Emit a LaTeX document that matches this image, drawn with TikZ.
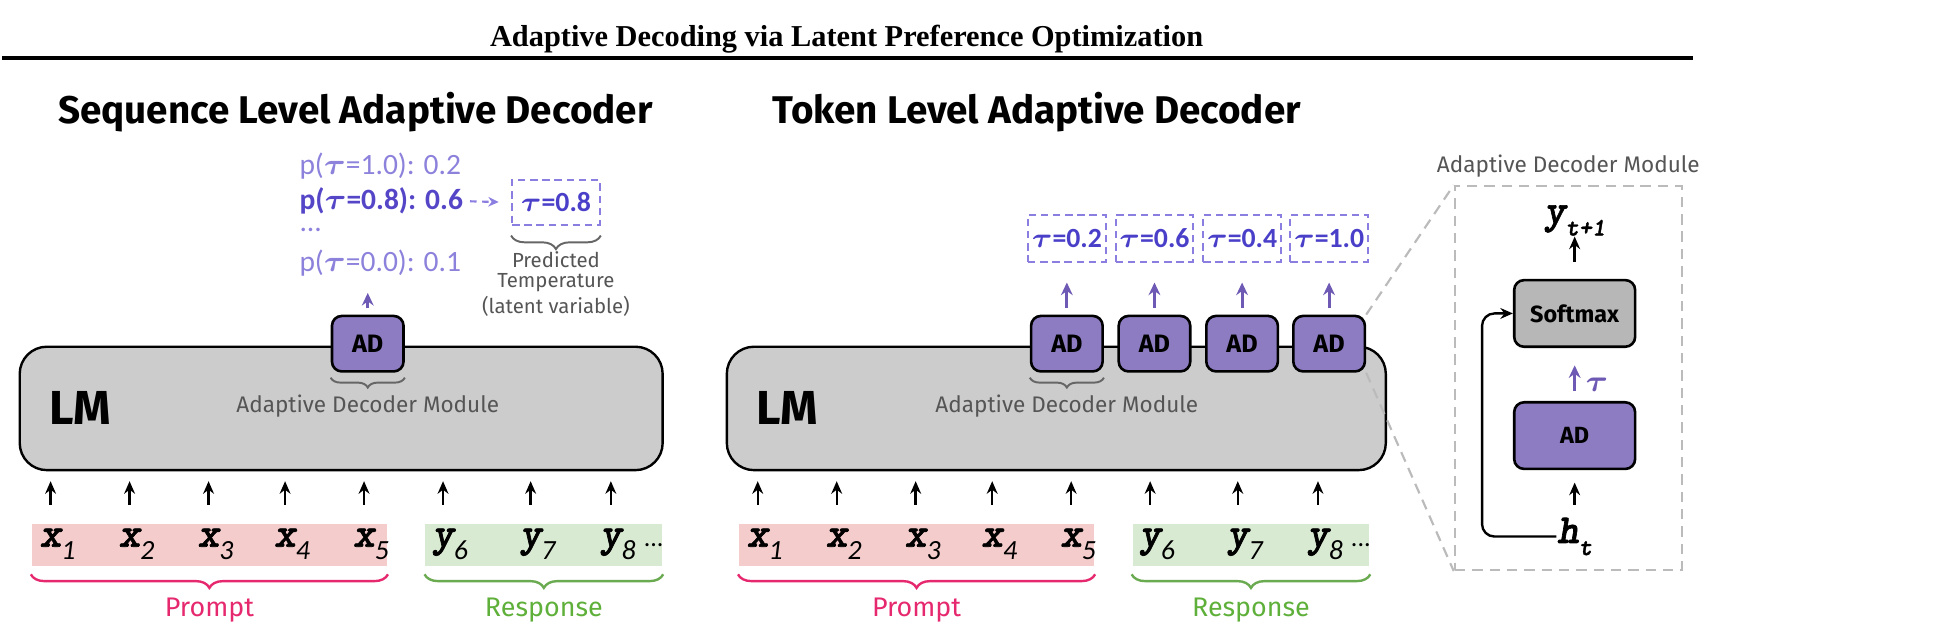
\RequirePackage{fix-cm}
\documentclass[tikz,border=0pt]{standalone}
\usepackage{fontspec}
\usepackage{bm}
\usetikzlibrary{arrows.meta, positioning, calc, decorations.pathreplacing}
\setmainfont{Fira Sans}
\newfontfamily\calfont{Carlito}
\newfontfamily\paperfont{Liberation Serif}
\newfontfamily\tokfont{lmmonolt10-boldoblique.otf}[FakeBold=1.6]

\definecolor{lmgray}{HTML}{CCCCCC}
\definecolor{softgray}{HTML}{B7B7B7}
\definecolor{adpurple}{HTML}{8E7CC3}
\definecolor{taublue}{HTML}{4A3FC9}
\definecolor{taudash}{HTML}{8A7EE0}
\definecolor{plight}{HTML}{8C82DC}
\definecolor{pdark}{HTML}{5546C8}
\definecolor{arrpurple}{HTML}{6E5AB4}
\definecolor{promptpink}{HTML}{F4CCCC}
\definecolor{responsegreen}{HTML}{D9EAD3}
\definecolor{promptred}{HTML}{E6286E}
\definecolor{respgreen}{HTML}{5FB03A}
\definecolor{respbrace}{HTML}{6AAA50}
\definecolor{textgray}{HTML}{555555}
\definecolor{bracegray}{HTML}{666666}
\definecolor{zoomgray}{HTML}{BBBBBB}

\newcommand{\tokx}[2]{{\tokfont #1}\rlap{\raisebox{-3pt}{\calfont\itshape\fontsize{6.4}{6.4}\selectfont #2}}}
\newcommand{\modvar}[2]{{\tokfont #1}\raisebox{-2.8pt}{\tokfont\fontsize{5.8}{6}\selectfont #2}}

\begin{document}
\begin{tikzpicture}[
        lmbox/.style={draw, line width=0.55pt, rounded corners=0.22cm, fill=lmgray, minimum height=1cm, anchor=north west},
        adbox/.style={draw, line width=0.6pt, rounded corners=0.08cm, fill=adpurple, minimum width=0.58cm, minimum height=0.45cm, inner sep=0pt, font=\fontsize{5.8}{6}\selectfont\bfseries},
        modbox/.style={draw, line width=0.6pt, rounded corners=0.08cm, minimum width=0.98cm, minimum height=0.54cm, inner sep=0pt, font=\fontsize{5.4}{6}\selectfont\bfseries},
        taubox/.style={draw=taudash, dash pattern=on 1.7pt off 1.1pt, line width=0.5pt, minimum width=0.63cm, minimum height=0.38cm, inner sep=0pt, text=taublue, font=\calfont\fontsize{6.4}{7}\selectfont\bfseries},
        plabel/.style={anchor=west, inner sep=0pt, font=\calfont\fontsize{6.8}{7}\selectfont},
        graytext/.style={text=textgray, font=\fontsize{5.2}{5.4}\selectfont, inner sep=0pt},
        heading/.style={anchor=base, font=\fontsize{8.9}{9}\selectfont\bfseries},
        lmlabel/.style={font=\fontsize{11}{11}\selectfont\bfseries},
        tokenlbl/.style={anchor=base, inner sep=0pt, font=\fontsize{9.5}{9.5}\selectfont},
        inarrow/.style={-{Stealth[length=2.9pt, width=2.5pt]}, line width=0.55pt},
        tauarrow/.style={-{Stealth[length=2.9pt, width=2.7pt]}, line width=0.7pt, draw=arrpurple},
        adbrace/.style={decorate, decoration={brace, mirror, amplitude=0.08cm}, draw=bracegray, line width=0.45pt},
        zoomline/.style={draw=zoomgray, dash pattern=on 2.4pt off 1.6pt, line width=0.5pt}
    ]
    \useasboundingbox (0,0) rectangle (15.68,-5.09);

    % Page header
    \node[anchor=base, font=\paperfont\bfseries\fontsize{7}{8}\selectfont] (paper) at (6.86,-0.38) {Adaptive Decoding via Latent Preference Optimization};
    \draw[line width=0.77pt] (0.02,-0.47) -- (13.72,-0.47);

    % Headings
    \node[heading] (seqtitle) at (2.88,-1.00) {Sequence Level Adaptive Decoder};
    \node[heading] (toktitle) at (8.40,-1.00) {Token Level Adaptive Decoder};

    % Sequence level: one AD for the whole response
    \node[lmbox, minimum width=5.21cm] (lms) at (0.15,-2.80) {};
    \node[lmlabel] (lmslbl) at (0.65,-3.31) {LM};
    \node[adbox] (adseq) at (2.98,-2.785) {AD};

    \node[plabel, text=plight] (pone) at (2.42,-1.35) {p($\bm{\tau}$=1.0): 0.2};
    \node[plabel, text=pdark, font=\calfont\fontsize{6.8}{7}\selectfont\bfseries] (psel) at (2.42,-1.63) {p($\bm{\tau}$=0.8): 0.6};
    \node[plabel, text=plight] (pdots) at (2.42,-1.86) {...};
    \node[plabel, text=plight] (pzero) at (2.42,-2.13) {p($\bm{\tau}$=0.0): 0.1};

    \node[taubox, minimum width=0.71cm, minimum height=0.36cm] (tausel) at (4.505,-1.64) {$\bm{\tau}$=0.8};
    \draw[-{Stealth[length=2.4pt, width=2.2pt]}, draw=taudash, line width=0.5pt, dash pattern=on 1.5pt off 1.3pt, shorten <=0.05cm, shorten >=0.1cm] (psel.east) -- (tausel.west);
    \draw[adbrace, decoration={amplitude=0.11cm}] ([yshift=-0.08cm]tausel.south west) -- ([yshift=-0.08cm]tausel.south east);
    \node[graytext, align=center, font=\fontsize{4.7}{4.7}\selectfont] (predlbl) at (4.505,-2.30) {Predicted\\Temperature\\(latent variable)};

    \draw[tauarrow, shorten <=0.05cm, shorten >=0.13cm] (adseq.north) -- (adseq.north |- pzero.south);
    \draw[adbrace] ([yshift=-0.04cm]adseq.south west) -- ([yshift=-0.04cm]adseq.south east);
    \node[graytext] (admseq) at ($(adseq.south)+(0,-0.27)$) {Adaptive Decoder Module};

    % Token level: one AD per token
    \node[lmbox, minimum width=5.34cm] (lmt) at (5.88,-2.80) {};
    \node[lmlabel] (lmtlbl) at (6.38,-3.31) {LM};
    \foreach \i/\xx/\tv in {1/8.645/0.2, 2/9.355/0.6, 3/10.065/0.4, 4/10.77/1.0} {
        \node[adbox] (adtok\i) at (\xx,-2.785) {AD};
        \node[taubox, above=0.42cm of adtok\i] (tautok\i) {$\bm{\tau}$=\tv};
        \draw[tauarrow, shorten <=0.05cm, shorten >=0.16cm] (adtok\i) -- (tautok\i);
    }
    \draw[adbrace] ([yshift=-0.04cm]adtok1.south west) -- ([yshift=-0.04cm]adtok1.south east);
    \node[graytext] (admtok) at ($(adtok1.south)+(0,-0.27)$) {Adaptive Decoder Module};

    % Inputs of both panels
    \foreach \pn/\dx in {s/0, t/5.73} {
        \node[fill=promptpink, minimum width=2.88cm, minimum height=0.34cm, inner sep=0pt, anchor=north west] (prompt\pn) at (0.25+\dx,-4.24) {};
        \node[fill=responsegreen, minimum width=1.92cm, minimum height=0.34cm, inner sep=0pt, anchor=north west] (response\pn) at (3.44+\dx,-4.24) {};
        \foreach \i/\xx in {1/0.41, 2/1.05, 3/1.69, 4/2.31, 5/2.95}
            \node[tokenlbl] (\pn x\i) at (\xx+\dx,-4.43) {\tokx{x}{\i}};
        \foreach \i/\xx in {6/3.59, 7/4.30, 8/4.95}
            \node[tokenlbl] (\pn y\i) at (\xx+\dx,-4.43) {\tokx{y}{\i}};
        \node[tokenlbl, anchor=base west, font=\calfont\fontsize{6}{6}\selectfont] (\pn dots) at (5.21+\dx,-4.43) {...};
        \foreach \tk in {x1,x2,x3,x4,x5,y6,y7,y8}
            \draw[inarrow, shorten >=0.08cm] (\pn\tk.north |- prompt\pn.north) ++(0,0.15) -- (\pn\tk.north |- lm\pn.south);
        \draw[decorate, decoration={brace, mirror, amplitude=0.11cm}, draw=promptred, line width=0.55pt] ([yshift=-0.06cm]prompt\pn.south west) -- ([yshift=-0.06cm]prompt\pn.south east);
        \draw[decorate, decoration={brace, mirror, amplitude=0.11cm}, draw=respbrace, line width=0.55pt] ([yshift=-0.06cm]response\pn.south west) -- ([yshift=-0.06cm]response\pn.south east);
        \node[text=promptred, font=\fontsize{6.2}{6.2}\selectfont] (promptlbl\pn) at ($(prompt\pn.south)+(0,-0.35)$) {Prompt};
        \node[text=respgreen, font=\fontsize{6.2}{6.2}\selectfont] (responselbl\pn) at ($(response\pn.south)+(0,-0.35)$) {Response};
    }

    % Inside one adaptive decoder module
    \node[draw=zoomgray, dash pattern=on 2.4pt off 1.6pt, line width=0.5pt, minimum width=1.84cm, minimum height=3.11cm, anchor=north west] (module) at (11.78,-1.50) {};
    \node[graytext, anchor=base] (moduletitle) at ($(module.north)+(0,0.10)$) {Adaptive Decoder Module};
    \draw[zoomline] (adtok4.north east) -- (module.north west);
    \draw[zoomline] (adtok4.south east) -- (module.south west);

    \node[modbox, fill=softgray] (softmax) at (12.76,-2.54) {Softmax};
    \node[modbox, fill=adpurple] (admod) at (12.76,-3.53) {AD};
    \node[tokenlbl] (ynext) at (12.76,-1.81) {\modvar{y}{t+1}};
    \node[tokenlbl] (ht) at (12.76,-4.40) {\modvar{h}{t}};
    \node[text=arrpurple, font=\fontsize{7}{7}\selectfont] (taumod) at (12.94,-3.12) {$\bm{\tau}$};

    \draw[inarrow, shorten <=0.14cm] (softmax.north) -- (softmax.north |- ynext.south);
    \draw[tauarrow, shorten <=0.08cm, shorten >=0.14cm] (admod) -- (softmax);
    \draw[inarrow, shorten <=0.1cm, shorten >=0.1cm] (ht) -- (admod);
    \draw[inarrow, rounded corners=0.1cm] (ht.west) -| ($(softmax.west)+(-0.25,0)$) -- (softmax.west);

\end{tikzpicture}
\end{document}
